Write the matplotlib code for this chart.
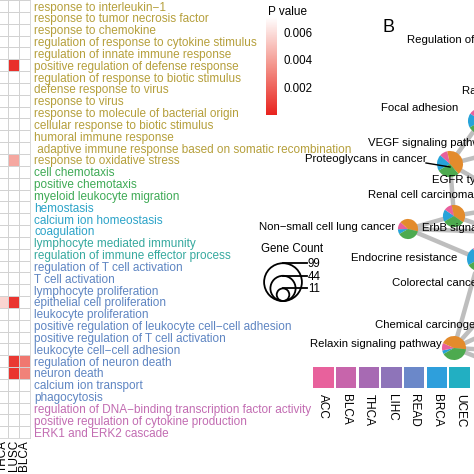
import numpy as np
import matplotlib.pyplot as plt
from matplotlib.colors import LinearSegmentedColormap, Normalize
from matplotlib.cm import ScalarMappable
from matplotlib.patches import Circle

plt.rcParams['font.family'] = ['Liberation Sans', 'DejaVu Sans']

# ---- panel A: enriched GO terms (heatmap, cropped on the left) ----
go_terms = ['response to interleukin−1', 'response to tumor necrosis factor',
            'response to chemokine', 'regulation of response to cytokine stimulus',
            'regulation of innate immune response', 'positive regulation of defense response',
            'regulation of response to biotic stimulus', 'defense response to virus',
            'response to virus', 'response to molecule of bacterial origin',
            'cellular response to biotic stimulus', 'humoral immune response',
            ' adaptive immune response based on somatic recombination',
            'response to oxidative stress', 'cell chemotaxis', 'positive chemotaxis',
            'myeloid leukocyte migration', 'hemostasis', 'calcium ion homeostasis',
            'coagulation', 'lymphocyte mediated immunity', 'regulation of immune effector process',
            'regulation of T cell activation', 'T cell activation', 'lymphocyte proliferation',
            'epithelial cell proliferation', 'leukocyte proliferation',
            'positive regulation of leukocyte cell−cell adhesion',
            'positive regulation of T cell activation', 'leukocyte cell−cell adhesion',
            'regulation of neuron death', 'neuron death', 'calcium ion transport',
            'phagocytosis', 'regulation of DNA−binding transcription factor activity',
            'positive regulation of cytokine production', 'ERK1 and ERK2 cascade']
term_group = [0]*14 + [1]*3 + [2]*3 + [3]*2 + [4]*12 + [5]*3
group_colors = ['#B59F3B', '#3EAA55', '#2BA3C8', '#36A99F', '#5E85C2', '#C26CB2']
heat_cancers = ['THCA', 'LUSC', 'BLCA']

hit_terms = ['positive regulation of defense response', 'response to oxidative stress',
             'epithelial cell proliferation', 'epithelial cell proliferation',
             'regulation of neuron death', 'regulation of neuron death',
             'neuron death', 'neuron death']
hit_cancers = ['LUSC', 'LUSC', 'THCA', 'LUSC', 'LUSC', 'BLCA', 'LUSC', 'BLCA']
hit_pvals = [0.0004, 0.0042, 0.0057, 0.0006, 0.0007, 0.0027, 0.0006, 0.0030]

# ---- legends ----
legend_cancers = ['ACC', 'BLCA', 'THCA', 'LIHC', 'READ', 'BRCA', 'UCEC']
legend_colors = ['#E8619C', '#C765AB', '#A76AB3', '#8E74B9', '#6B88C9', '#2E9FDC', '#22AFC2']
gene_count_keys = [99, 44, 11]

# ---- panel B: KEGG network (cropped on the right) ----
node_names = ['Focal adhesion', 'Proteoglycans in cancer', 'EGFR', 'NSCLC',
              'Endocrine resistance', 'Relaxin', 'Rap1', 'VEGF', 'Renal', 'ErbB',
              'Colorectal', 'Chemical', 'Actin', 'MAPK', 'PI3K']
node_x = [481, 450, 454, 408, 479, 454, 510, 505, 520, 500, 510, 505, 540, 530, 530]
node_y = [121, 164, 216, 229, 259, 348, 95, 150, 205, 232, 285, 325, 55, 352, 378]
node_count = [47, 47, 34, 28, 40, 40, 40, 40, 40, 40, 40, 40, 40, 40, 40]
# pie fractions: cyan, pink, orange, green
node_mix = [[0.18, 0.10, 0.36, 0.36], [0.20, 0.10, 0.42, 0.28], [0.18, 0.12, 0.38, 0.32],
            [0.08, 0.12, 0.42, 0.38], [0.25, 0.25, 0.35, 0.15], [0.05, 0.10, 0.45, 0.40]] + \
           [[0.25, 0.25, 0.25, 0.25]] * 9
pie_colors = ['#27A3D9', '#E8609C', '#E38B2C', '#4DAA4F']
edges = [('Focal adhesion', 'Proteoglycans in cancer'), ('Focal adhesion', 'Rap1'),
         ('Focal adhesion', 'VEGF'), ('Proteoglycans in cancer', 'VEGF'),
         ('Proteoglycans in cancer', 'EGFR'), ('Proteoglycans in cancer', 'Renal'),
         ('EGFR', 'NSCLC'), ('EGFR', 'ErbB'), ('EGFR', 'Renal'),
         ('NSCLC', 'Endocrine resistance'), ('NSCLC', 'ErbB'),
         ('Endocrine resistance', 'Relaxin'), ('Endocrine resistance', 'Colorectal'),
         ('Relaxin', 'Chemical'), ('Relaxin', 'Colorectal'), ('Relaxin', 'MAPK'),
         ('Relaxin', 'PI3K'), ('Focal adhesion', 'Actin')]

label_text = ['Regulation of actin cytoskeleton', 'Rap1 signaling pathway', 'Focal adhesion',
              'VEGF signaling pathway', 'Proteoglycans in cancer',
              'EGFR tyrosine kinase inhibitor resistance', 'Renal cell carcinoma',
              'Non−small cell lung cancer', 'ErbB signaling pathway', 'Endocrine resistance',
              'Colorectal cancer', 'Chemical carcinogenesis', 'Relaxin signaling pathway']
label_x = [407, 462, 381, 368, 305, 432, 368, 259, 422, 351, 392, 375, 310]
label_y = [40, 91, 108, 143, 159, 180, 195, 227, 228, 258, 283, 325, 344]

W = 474
fig = plt.figure(figsize=(4.74, 4.74), dpi=100)


def px(x0, y0, w, h):
    return [x0 / W, 1 - (y0 + h) / W, w / W, h / W]


cmap = LinearSegmentedColormap.from_list('pval', ['#E8231E', '#F3938A', '#FFFFFF'])
cmap = cmap.with_extremes(bad='white')
norm = Normalize(vmin=0.0, vmax=0.0071)

# heatmap
mat = np.full((len(go_terms), len(heat_cancers)), np.nan)
for t, c, p in zip(hit_terms, hit_cancers, hit_pvals):
    mat[go_terms.index(t), heat_cancers.index(c)] = p

hax = fig.add_axes(px(-2.5, 0.1, 32, 438))
hax.pcolormesh(np.ma.masked_invalid(mat), cmap=cmap, norm=norm,
               edgecolors='#D2D2D2', linewidth=0.6)
hax.set_xlim(0, len(heat_cancers))
hax.set_ylim(len(go_terms), 0)
for s in hax.spines.values():
    s.set_color('#D2D2D2')
    s.set_linewidth(0.6)
hax.yaxis.tick_right()
hax.set_yticks(np.arange(len(go_terms)) + 0.5, go_terms, fontsize=8.5)
for lab, g in zip(hax.get_yticklabels(), term_group):
    lab.set_color(group_colors[g])
hax.set_xticks(np.arange(len(heat_cancers)) + 0.5, heat_cancers, rotation=90, fontsize=8.5)
hax.tick_params(length=0)
hax.tick_params(axis='y', pad=3.3)
hax.tick_params(axis='x', pad=1.5)

# colour bar
cax = fig.add_axes(px(266, 17, 11, 98))
cb = fig.colorbar(ScalarMappable(norm=norm, cmap=cmap), cax=cax, ticks=[0.002, 0.004, 0.006])
cb.outline.set_visible(False)
cb.ax.set_yticklabels(['0.002', '0.004', '0.006'])
cax.tick_params(length=0, labelsize=8.3, pad=5)
fig.text(268 / W, 1 - 12 / W, 'P value', fontsize=8.5, va='center')

# overlay in pixel coordinates
ax = fig.add_axes([0, 0, 1, 1])


def radius(n):
    return 6.3 * np.sqrt(n / 11)


pos = {n: (x, y) for n, x, y in zip(node_names, node_x, node_y)}
for a, b in edges:
    ax.plot([pos[a][0], pos[b][0]], [pos[a][1], pos[b][1]], color='#BEBEBE', lw=3.2,
            solid_capstyle='round', zorder=1)
for n, x, y, c, mix in zip(node_names, node_x, node_y, node_count, node_mix):
    wedges, _ = ax.pie(mix, colors=pie_colors, center=(x, y), radius=radius(c),
                       startangle=150, frame=True, wedgeprops=dict(linewidth=0))
    for w_ in wedges:
        w_.set_zorder(2)

for t, x, y in zip(label_text, label_x, label_y):
    ax.text(x, y, t, fontsize=8.2, va='center', ha='left', color='black', zorder=4)
# leader line for the repelled label
ax.plot([426, pos['Proteoglycans in cancer'][0]], [163, pos['Proteoglycans in cancer'][1] + 3],
        color='black', lw=1, zorder=3)

ax.text(383, 27, 'B', fontsize=13, va='center', ha='left')

# gene count legend
ax.text(292, 249, 'Gene Count', fontsize=8.3, va='center', ha='center')
for n in gene_count_keys:
    r = radius(n)
    ax.add_patch(Circle((283, 301 - r), r, fill=False, ec='black', lw=1.3))
    ax.plot([283, 307], [301 - 2 * r] * 2, color='black', lw=1.3)
    ax.text(308, 301 - 2 * r + 1, str(n), fontsize=8.3, va='center')

ax.set_xlim(0, W)
ax.set_ylim(W, 0)
ax.axis('off')

# cancer colour legend
lax = fig.add_axes(px(312, 367, 159, 21))
lax.bar(range(len(legend_cancers)), 1, width=0.9, color=legend_colors)
lax.set_xlim(-0.5, len(legend_cancers) - 0.5)
lax.set_ylim(0, 1)
for s in lax.spines.values():
    s.set_visible(False)
lax.set_yticks([])
lax.set_xticks(range(len(legend_cancers)), legend_cancers, rotation=270, fontsize=8.5)
lax.tick_params(length=0, pad=4)

fig.savefig('out.png', dpi=100)
